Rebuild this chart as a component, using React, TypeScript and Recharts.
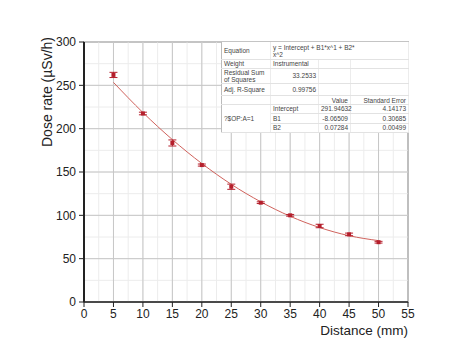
import {
  ComposedChart,
  ErrorBar,
  Line,
  ReferenceArea,
  ReferenceLine,
  Scatter,
  XAxis,
  YAxis,
} from "recharts";

// measured dose rate vs distance
const distance = [5, 10, 15, 20, 25, 30, 35, 40, 45, 50];
const doseRate = [262, 217.5, 183.5, 158, 133, 114.6, 100, 87.7, 78, 69];
const doseError = [3, 1.5, 3.5, 1.2, 3, 1, 1, 2, 1.5, 1];
// polynomial fit (value at each distance)
const fitValue = [253.4, 218.6, 187.4, 159.8, 135.8, 115.6, 98.9, 85.9, 76.5, 70.8];

const xTicks = [0, 5, 10, 15, 20, 25, 30, 35, 40, 45, 50, 55];
const xMinorTicks = [0, 2.5, 5, 7.5, 10, 12.5, 15, 17.5, 20, 22.5, 25, 27.5, 30, 32.5, 35, 37.5, 40, 42.5, 45, 47.5, 50, 52.5, 55];
const yTicks = [0, 50, 100, 150, 200, 250, 300];
const yMinorTicks = [0, 25, 50, 75, 100, 125, 150, 175, 200, 225, 250, 275, 300];

const points = distance.map((d, i) => ({ distance: d, dose: doseRate[i], err: doseError[i] }));
const fitPoints = distance.map((d, i) => ({ distance: d, fit: fitValue[i] }));

const tableRows: { label: string; value: string; h: number }[] = [
  { label: "Weight", value: "Instrumental", h: 9 },
  { label: "Residual Sum\nof Squares", value: "33.2533", h: 15 },
  { label: "Adj. R-Square", value: "0.99756", h: 12 },
];
const paramNames = ["Intercept", "B1", "B2"];
const paramValues = ["291.94632", "-8.06509", "0.07284"];
const paramErrors = ["4.14173", "0.30685", "0.00499"];

const font = "'Liberation Sans', Arial, sans-serif";
const ink = "#222";
const markColor = "#b51f2c";
const fitColor = "#d0625c";

function Square(props: any) {
  const { cx, cy } = props;
  if (cx == null || cy == null) return null;
  return <rect x={cx - 2} y={cy - 2} width={4} height={4} fill={markColor} />;
}

function FitTable() {
  const cell: React.CSSProperties = {
    padding: "0 2px",
    borderBottom: "1px solid #e2e2e2",
    borderRight: "1px solid #ececec",
    whiteSpace: "pre",
    lineHeight: "7px",
  };
  const num: React.CSSProperties = { ...cell, textAlign: "right" };
  return (
    <table
      style={{
        position: "absolute",
        left: 221,
        top: 42,
        width: 187,
        borderCollapse: "collapse",
        background: "#fff",
        fontFamily: font,
        fontSize: 6.5,
        color: "#444",
        tableLayout: "fixed",
        borderLeft: "1px solid #bbb",
        borderBottom: "1px solid #999",
      }}
    >
      <colgroup>
        <col style={{ width: 49 }} />
        <col style={{ width: 48 }} />
        <col style={{ width: 32 }} />
        <col style={{ width: 58 }} />
      </colgroup>
      <tbody>
        <tr style={{ height: 17 }}>
          <td style={cell}>Equation</td>
          <td style={{ ...cell, verticalAlign: "top", paddingTop: 2 }} colSpan={3}>
            {"y = Intercept + B1*x^1 + B2*\nx^2"}
          </td>
        </tr>
        {tableRows.map((r) => (
          <tr key={r.label} style={{ height: r.h }}>
            <td style={cell}>{r.label}</td>
            <td style={/^[0-9]/.test(r.value) ? num : cell}>{r.value}</td>
            <td style={cell}></td>
            <td style={cell}></td>
          </tr>
        ))}
        <tr style={{ height: 9 }}>
          <td style={cell}></td>
          <td style={cell}></td>
          <td style={{ ...num, verticalAlign: "bottom" }}>Value</td>
          <td style={{ ...num, verticalAlign: "bottom" }}>Standard Error</td>
        </tr>
        {paramNames.map((p, i) => (
          <tr key={p} style={{ height: 9.5 }}>
            {i === 0 && (
              <td style={cell} rowSpan={3}>
                ?$OP:A=1
              </td>
            )}
            <td style={cell}>{p}</td>
            <td style={num}>{paramValues[i]}</td>
            <td style={num}>{paramErrors[i]}</td>
          </tr>
        ))}
      </tbody>
    </table>
  );
}

export default function App() {
  return (
    <div style={{ position: "absolute", left: 0, top: 0, width: 474, height: 363, background: "#fff" }}>
      <ComposedChart
        width={474}
        height={363}
        margin={{ top: 42, right: 66, bottom: 25, left: 54 }}
      >
        <XAxis
          xAxisId="minor"
          type="number"
          domain={[0, 55]}
          ticks={xMinorTicks}
          height={0}
          tick={false}
          tickSize={3}
          axisLine={false}
          tickLine={{ stroke: ink }}
        />
        <XAxis
          dataKey="distance"
          type="number"
          domain={[0, 55]}
          ticks={xTicks}
          interval={0}
          height={36}
          tickSize={5}
          tickMargin={2}
          axisLine={{ stroke: ink, strokeWidth: 1.5 }}
          tickLine={{ stroke: ink }}
          tick={{ fontSize: 12, fill: ink, fontFamily: font }}
          allowDataOverflow
        />
        <YAxis
          yAxisId="minor"
          type="number"
          domain={[0, 300]}
          ticks={yMinorTicks}
          width={0}
          tick={false}
          tickSize={3}
          axisLine={false}
          tickLine={{ stroke: ink }}
        />
        <YAxis
          type="number"
          domain={[0, 300]}
          ticks={yTicks}
          interval={0}
          width={30}
          tickSize={5}
          tickMargin={3}
          axisLine={{ stroke: ink, strokeWidth: 2 }}
          tickLine={{ stroke: ink }}
          tick={{ fontSize: 12, fill: ink, fontFamily: font }}
          allowDataOverflow
        />
        {xMinorTicks.map((v) => (
          <ReferenceLine key={`mx${v}`} x={v} stroke="#ececec" strokeWidth={1} />
        ))}
        {yMinorTicks.map((v) => (
          <ReferenceLine key={`my${v}`} y={v} stroke="#ececec" strokeWidth={1} />
        ))}
        {xTicks.map((v) => (
          <ReferenceLine key={`x${v}`} x={v} stroke="#c6c6c6" strokeWidth={1} />
        ))}
        {yTicks.map((v) => (
          <ReferenceLine key={`y${v}`} y={v} stroke="#c6c6c6" strokeWidth={1} />
        ))}
        <ReferenceArea x1={0} x2={55} y1={0} y2={300} fill="none" stroke="#333" strokeWidth={1.2} />
        <Line
          data={fitPoints}
          dataKey="fit"
          type="monotone"
          stroke={fitColor}
          strokeWidth={1}
          dot={false}
          isAnimationActive={false}
        />
        <Scatter data={points} dataKey="dose" shape={<Square />} isAnimationActive={false}>
          <ErrorBar dataKey="err" direction="y" width={4} stroke={markColor} strokeWidth={1} />
        </Scatter>
      </ComposedChart>
      <FitTable />
      <div
        style={{
          position: "absolute",
          right: 474 - 408,
          top: 323,
          fontFamily: font,
          fontSize: 13.5,
          color: ink,
          whiteSpace: "nowrap",
        }}
      >
        Distance (mm)
      </div>
      <div
        style={{
          position: "absolute",
          left: 47,
          top: 92,
          transform: "translate(-50%, -50%) rotate(-90deg)",
          fontFamily: font,
          fontSize: 14,
          color: ink,
          whiteSpace: "nowrap",
        }}
      >
        Dose rate (µSv/h)
      </div>
    </div>
  );
}
